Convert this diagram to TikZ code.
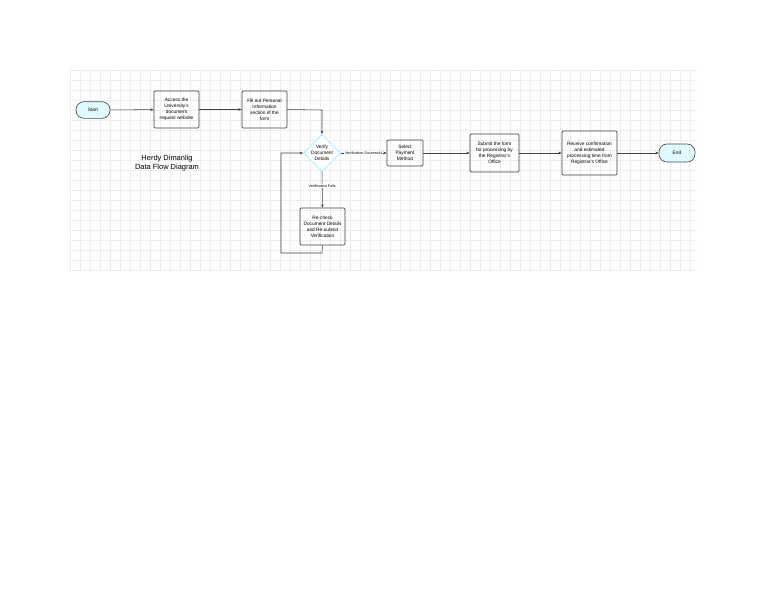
\documentclass[tikz,border=0pt]{standalone}
\usepackage{fontspec}
\setmainfont{Liberation Sans}
\usetikzlibrary{shapes.geometric,arrows.meta}
\begin{document}
\begin{tikzpicture}[x=0.75pt,y=-0.75pt,
 box/.style={draw=black!75,line width=0.5pt,rounded corners=0.8pt,align=center,font=\fontsize{3.6}{4.4}\selectfont,inner sep=0pt},
 term/.style={draw=black!70,fill=blue!15!cyan!12,rounded corners=6pt,minimum width=25.5pt,minimum height=12.5pt,font=\fontsize{3.6}{4.4}\selectfont,line width=0.5pt},
 conn/.style={draw=black!75,line width=0.4pt,-{Stealth[length=2.5pt,width=2pt]}},
 lbl/.style={font=\fontsize{2.8}{3.4}\selectfont,fill=white,inner sep=0.5pt}]
\useasboundingbox (0,0) rectangle (768,594);
\fill[white] (0,0) rectangle (768,594);
\draw[black!7,line width=0.3pt,step=7.5pt] (70,70) grid (697,270);
\node[term] (start) at (93,110) {Start};
\node[box,minimum width=33.75pt,minimum height=27.75pt] (access) at (176.5,109.5) {Access the\\University's\\document\\request website};
\node[box,minimum width=33.75pt,minimum height=27.75pt] (fill) at (264.5,109.5) {Fill out Personal\\Information\\section of the\\form};
\node[diamond,draw=blue!25!cyan!35,line width=0.6pt,fill=white,minimum width=27pt,minimum height=21pt,inner sep=0pt,align=center,font=\fontsize{3.6}{4.4}\selectfont] (ver) at (322,153) {Verify\\Document\\Details};
\node[box,minimum width=27pt,minimum height=19.5pt] (sel) at (405,153) {Select\\Payment\\Method};
\node[box,minimum width=36.75pt,minimum height=28.5pt] (sub) at (494.5,153) {Submit the form\\for processing by\\the Registrar's\\Office};
\node[box,minimum width=41.25pt,minimum height=33pt] (rec) at (589.5,153) {Receive confirmation\\and estimated\\processing time from\\Registrar's Office};
\node[term,minimum width=27pt,minimum height=13.5pt] (end) at (677,153) {End};
\node[box,minimum width=33.75pt,minimum height=27.75pt] (rc) at (322.5,226.5) {Re-check\\Document Details\\and Re-submit\\Verification};
\node[align=center,font=\fontsize{5.6}{6.4}\selectfont] (title) at (167,163) {Herdy Dimanlig\\Data Flow Diagram};
\coordinate (c1) at (322,110);
\coordinate (c2) at (322,253);
\coordinate (c3) at (281,253);
\coordinate (c4) at (281,153);
\draw[conn] (start) -- (access);
\draw[conn] (access) -- (fill);
\draw[conn] (fill.east) -- (c1) -- (ver.north);
\draw[conn] (ver.east) -- node[lbl]{Verification Successful} (sel.west);
\draw[conn] (sel) -- (sub);
\draw[conn] (sub) -- (rec);
\draw[conn] (rec) -- (end);
\draw[conn] (ver.south) -- node[lbl,pos=0.4]{Verification Fails} (rc.north);
\draw[conn] (rc.south) -- (c2) -- (c3) -- (c4) -- (ver.west);
\end{tikzpicture}
\end{document}
